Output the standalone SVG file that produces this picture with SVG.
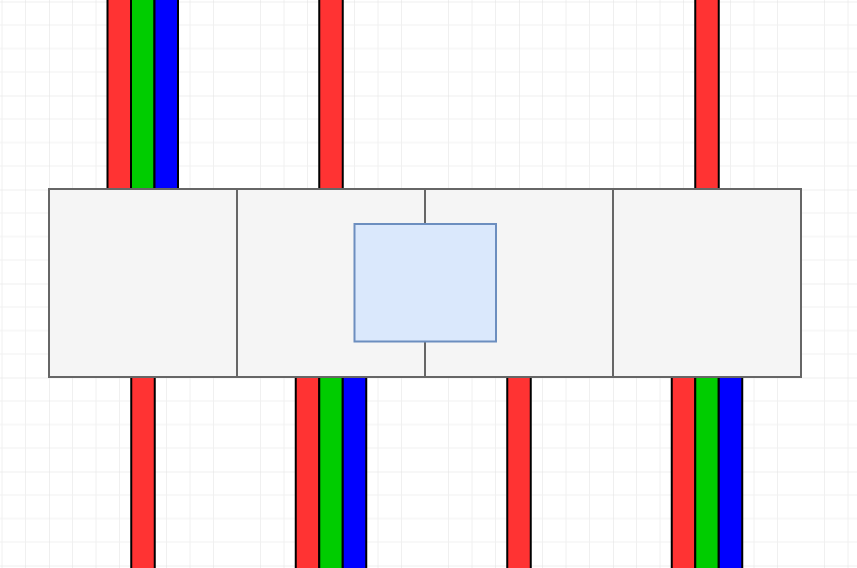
<svg xmlns="http://www.w3.org/2000/svg" width="857" height="568" viewBox="0 0 857 568">
<defs>
<pattern id="grid" patternUnits="userSpaceOnUse" x="49" y="1.5" width="94" height="94">
<path d="M23.5 0V94M47 0V94M70.5 0V94M0 23.5H94M0 47H94M0 70.5H94" stroke="#f0f0f0" stroke-width="1" fill="none"/>
<path d="M0 0V94M0 0H94" stroke="#e0e0e0" stroke-width="1" fill="none"/>
</pattern>
</defs>
<style>
.cell{fill:#f5f5f5;stroke:#666666;stroke-width:2}
.r{fill:#ff3333;stroke:#000;stroke-width:2}
.g{fill:#00cc00;stroke:#000;stroke-width:2}
.b{fill:#0000ff;stroke:#000;stroke-width:2}
.inner{fill:#dae8fc;stroke:#6c8ebf;stroke-width:2}
</style>
<rect width="857" height="568" fill="#ffffff"/>
<rect width="857" height="568" fill="url(#grid)"/>
<g id="connectors">
<g id="top-wire-1">
<rect class="r" x="107.5" y="-5" width="23.5" height="194"/>
<rect class="g" x="131" y="-5" width="23.5" height="194"/>
<rect class="b" x="154.5" y="-5" width="23.5" height="194"/>
</g>
<g id="top-wire-2"><rect class="r" x="319.25" y="-5" width="23.5" height="194"/></g>
<g id="top-wire-4"><rect class="r" x="695.25" y="-5" width="23.5" height="194"/></g>
<g id="bottom-wire-1"><rect class="r" x="131.25" y="377" width="23.5" height="196"/></g>
<g id="bottom-wire-2">
<rect class="r" x="295.75" y="377" width="23.5" height="196"/>
<rect class="g" x="319.25" y="377" width="23.5" height="196"/>
<rect class="b" x="342.75" y="377" width="23.5" height="196"/>
</g>
<g id="bottom-wire-3"><rect class="r" x="507.25" y="377" width="23.5" height="196"/></g>
<g id="bottom-wire-4">
<rect class="r" x="671.75" y="377" width="23.5" height="196"/>
<rect class="g" x="695.25" y="377" width="23.5" height="196"/>
<rect class="b" x="718.75" y="377" width="23.5" height="196"/>
</g>
</g>
<g id="cell-1"><rect class="cell" x="49" y="189" width="188" height="188"/></g>
<g id="cell-2"><rect class="cell" x="237" y="189" width="188" height="188"/></g>
<g id="cell-3"><rect class="cell" x="425" y="189" width="188" height="188"/></g>
<g id="cell-4"><rect class="cell" x="613" y="189" width="188" height="188"/></g>
<g id="center-block"><rect class="inner" x="354.5" y="224" width="141.5" height="117.5"/></g>
</svg>
